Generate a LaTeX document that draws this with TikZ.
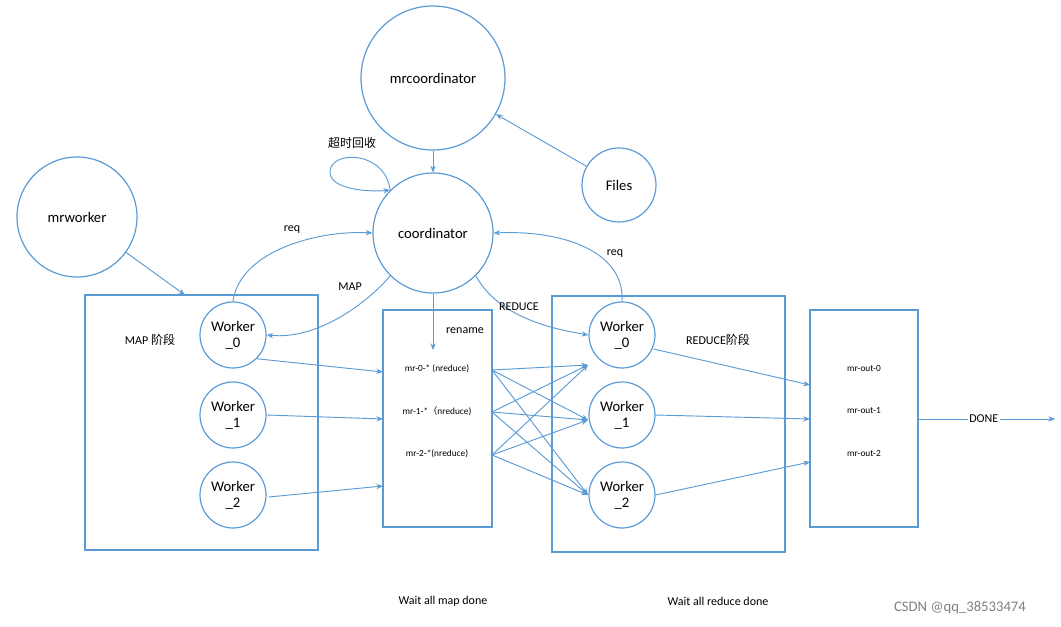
\documentclass[tikz,border=0pt]{standalone}
\usepackage{fontspec}
\setmainfont{Carlito}
\newfontfamily\cjk{Noto Sans CJK SC}
\usetikzlibrary{arrows.meta}
\definecolor{bl}{HTML}{5B9BD5}
\begin{document}
\begin{tikzpicture}[x=0.75pt,y=-0.75pt,
  c/.style={circle,draw=bl,line width=0.9pt,minimum size=#1*0.75pt,inner sep=0pt,align=center,font=\fontsize{11}{12}\selectfont},
  bx/.style={draw=bl,line width=0.9pt},
  ar/.style={draw=bl,line width=0.7pt,-{Stealth[length=5pt,width=4pt]}},
  t/.style={font=\fontsize{9}{10}\selectfont},
  s/.style={font=\fontsize{7}{8}\selectfont}]
\useasboundingbox (0,0) rectangle (1061,627);
\node[c=144] (mrc) at (433,78) {mrcoordinator};
\node[c=74] (files) at (619,185) {Files};
\node[c=120] (coord) at (433,233) {coordinator};
\node[c=120] (mrw) at (77,217) {mrworker};
\draw[bx] (85,295) rectangle (318,550);
\coordinate (mapboxtop) at (185,295);
\node[t] at (150,340) {MAP {\cjk 阶段}};
\draw[bx] (383,310) rectangle (492,527);
\draw[bx] (552,296) rectangle (785,552);
\draw[bx] (810,310) rectangle (918,527);
\node[t] at (718,340) {REDUCE{\cjk 阶段}};
\foreach \i/\y in {0/335,1/415,2/495}{
  \node[c=66] (m\i) at (233,\y) {Worker\\\_\i};
  \node[c=66] (r\i) at (622,\y) {Worker\\\_\i};
}
\node[s] (f0) at (437,369) {mr-0-* (nreduce)};
\node[s] (f1) at (437,411) {mr-1-*{\cjk （}nreduce)};
\node[s] (f2) at (437,454) {mr-2-*(nreduce)};
\node[s] (o0) at (864,369) {mr-out-0};
\node[s] (o1) at (864,411) {mr-out-1};
\node[s] (o2) at (864,454) {mr-out-2};
\node[t] at (465,331) {rename};
\node[t] at (443,601) {Wait all map done};
\node[t] at (718,601) {Wait all reduce done};
\node[font=\fontsize{11}{12}\selectfont,text=gray] at (960,608) {CSDN @qq\_38533474};
% arrows
\draw[ar] (mrc) -- (coord);
\draw[ar] (files) -- (mrc);
\draw[ar] (mrw) -- (mapboxtop);
\draw[ar] (coord.north west) .. controls (385,150) and (330,150) .. (330,172) .. controls (330,190) and (370,192) .. (coord.north west);
\node[t,font=\cjk\fontsize{9}{10}\selectfont] at (352,143) {超时回收};
\draw[ar] (m0.north) .. controls (240,250) and (320,230) .. (coord.west);
\node[t] at (292,230) {req};
\draw[ar] (coord.south west) .. controls (370,300) and (320,340) .. (m0.east);
\node[t] at (350,287) {MAP};
\draw[ar] (coord.south) -- (433,350);
\draw[ar] (coord.south east) .. controls (500,320) and (560,330) .. (r0.west);
\node[t] at (519,307) {REDUCE};
\draw[ar] (r0.north) .. controls (625,250) and (560,230) .. (coord.east);
\node[t] at (615,254) {req};
\draw[ar] (m0.south east) -- (383,372);
\draw[ar] (m1.east) -- (383,419);
\draw[ar] (m2.east)++(2,2) -- (383,486);
\foreach \a/\ya in {0/370,1/412,2/455}{
  \foreach \b/\yb in {0/365,1/420,2/495}{
    \draw[ar] (492,\ya) -- (588,\yb);
  }}
\draw[ar] (r0.east)++(-2,14) -- (810,385);
\draw[ar] (r1.east) -- (810,419);
\draw[ar] (r2.east) -- (810,462);
\coordinate (done) at (1055,419);
\draw[ar] (918,419) -- (done) node[pos=0.48,t,fill=white,inner sep=1pt]{DONE};
\end{tikzpicture}
\end{document}
